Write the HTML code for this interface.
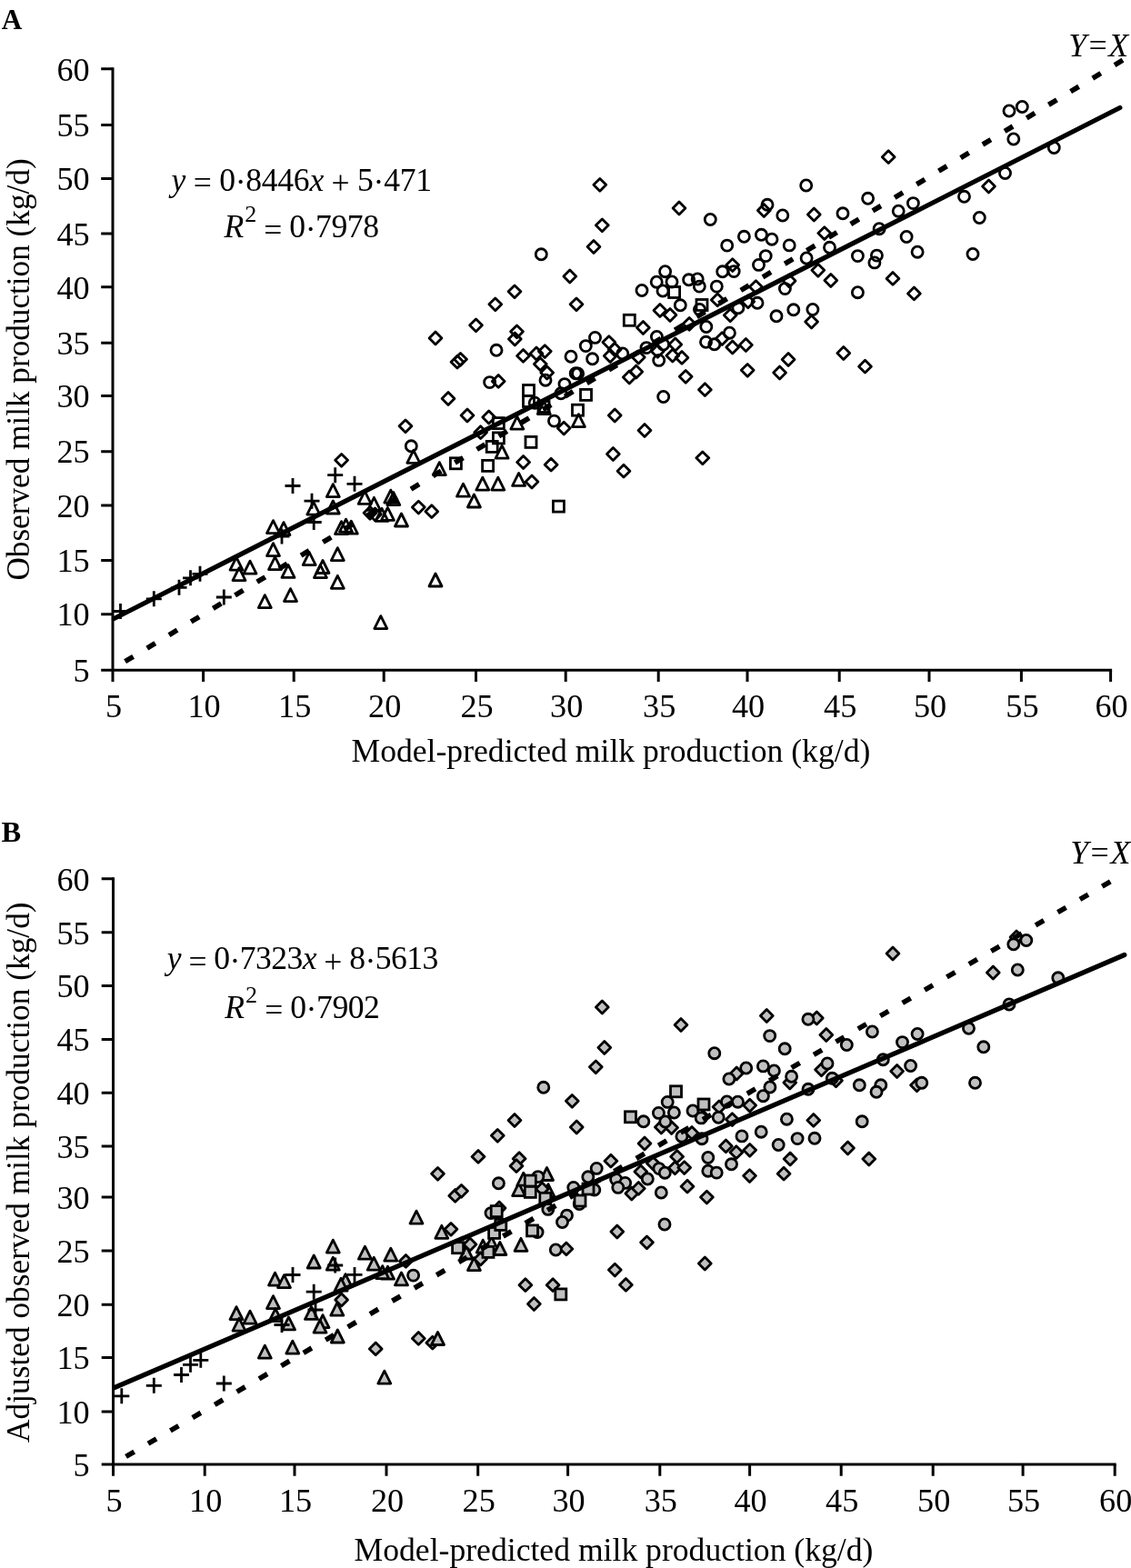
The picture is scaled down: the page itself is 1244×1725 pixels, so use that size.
<!DOCTYPE html>
<html lang="en"><head><meta charset="utf-8"><title>Observed vs model-predicted milk production</title>
<style>
html,body{margin:0;padding:0;background:#fff}
svg{display:block}
text{font-family:"Liberation Serif", serif;fill:#000}
</style></head>
<body>
<svg width="1244" height="1725" viewBox="0 0 1244 1725">
<rect width="1244" height="1725" fill="#fff"/>
<text x="1.8" y="32.2" font-size="31.2" font-weight="bold">A</text>
<text x="1.5" y="926.2" font-size="32.5" font-weight="bold">B</text>
<g id="chartA">
<g stroke="#000" stroke-width="3" fill="none">
<path d="M124 74.3V750"/>
<path d="M111.2 737.2H1223.1"/>
<path d="M111.2 75.8H124M111.2 137.5H124M223.6 737.2V750M111.2 196.4H124M323.2 737.2V750M111.2 257.1H124M422.2 737.2V750M111.2 315.8H124M523.5 737.2V750M111.2 377.3H124M622.2 737.2V750M111.2 435.6H124M724.2 737.2V750M111.2 496.7H124M822 737.2V750M111.2 555.9H124M923.2 737.2V750M111.2 616.6H124M1022 737.2V750M111.2 675.7H124M1123.4 737.2V750M1221.6 737.2V750"/>
</g>
<g font-family='"Liberation Serif", serif' font-size="36.2" fill="#000">
<g text-anchor="end">
<text x="98.6" y="88.5">60</text>
<text x="98.6" y="150.2">55</text>
<text x="98.6" y="209.1">50</text>
<text x="98.6" y="269.8">45</text>
<text x="98.6" y="328.5">40</text>
<text x="98.6" y="390">35</text>
<text x="98.6" y="448.3">30</text>
<text x="98.6" y="509.4">25</text>
<text x="98.6" y="568.6">20</text>
<text x="98.6" y="629.3">15</text>
<text x="98.6" y="688.4">10</text>
<text x="98.6" y="749.9">5</text>
</g><g text-anchor="middle">
<text x="125" y="789.2">5</text>
<text x="224.6" y="789.2">10</text>
<text x="324.2" y="789.2">15</text>
<text x="423.2" y="789.2">20</text>
<text x="524.5" y="789.2">25</text>
<text x="623.2" y="789.2">30</text>
<text x="725.2" y="789.2">35</text>
<text x="823" y="789.2">40</text>
<text x="924.2" y="789.2">45</text>
<text x="1023" y="789.2">50</text>
<text x="1124.4" y="789.2">55</text>
<text x="1222.6" y="789.2">60</text>
</g>
<text x="671.9" y="838.4" text-anchor="middle" font-size="35.64">Model-predicted milk production (kg/d)</text>
<text transform="translate(31.7 406.5) rotate(-90)" text-anchor="middle" font-size="35.2">Observed milk production (kg/d)</text>
<text x="188.5" y="209.6" font-size="35.6" textLength="286.5" lengthAdjust="spacing"><tspan font-style="italic">y</tspan> <tspan dy="3.3">=</tspan><tspan dy="-3.3"> 0</tspan><tspan dy="2.5">·</tspan><tspan dy="-2.5">8446</tspan><tspan font-style="italic">x</tspan> <tspan dy="3.3">+</tspan><tspan dy="-3.3"> 5</tspan><tspan dy="2.5">·</tspan><tspan dy="-2.5">471</tspan></text>
<text x="246.4" y="261.3" font-size="35.6" textLength="170.6" lengthAdjust="spacing"><tspan font-style="italic">R</tspan><tspan dx="1.5" dy="-17" font-size="26">2</tspan><tspan dy="20.3"> =</tspan><tspan dy="-3.3"> 0</tspan><tspan dy="2.5">·</tspan><tspan dy="-2.5">7978</tspan></text>
<text x="1241.2" y="61.5" font-size="35.8" font-style="italic" text-anchor="end">Y=X</text>
</g>
<g fill="none" stroke="#000" stroke-width="2.8" stroke-linejoin="round"><path d="M260 613.1l7.0 14.0h-14.0z"/><path d="M263 624.6l7.0 14.0h-14.0z"/><path d="M275 617.1l7.0 14.0h-14.0z"/><path d="M300.5 572.6l7.0 14.0h-14.0z"/><path d="M312 574.6l7.0 14.0h-14.0z"/><path d="M300.5 597.6l7.0 14.0h-14.0z"/><path d="M302.5 612.6l7.0 14.0h-14.0z"/><path d="M317 621.4l7.0 14.0h-14.0z"/><path d="M291.3 654.6l7.0 14.0h-14.0z"/><path d="M319.5 647.6l7.0 14.0h-14.0z"/><path d="M340.2 607.6l7.0 14.0h-14.0z"/><path d="M355 616.5l7.0 14.0h-14.0z"/><path d="M352.4 621.6l7.0 14.0h-14.0z"/><path d="M371.3 602.6l7.0 14.0h-14.0z"/><path d="M371.3 633.3l7.0 14.0h-14.0z"/><path d="M366.3 532.6l7.0 14.0h-14.0z"/><path d="M366.3 551l7.0 14.0h-14.0z"/><path d="M344.8 552.1l7.0 14.0h-14.0z"/><path d="M401.2 540.4l7.0 14.0h-14.0z"/><path d="M411.4 547.3l7.0 14.0h-14.0z"/><path d="M375.5 573.6l7.0 14.0h-14.0z"/><path d="M380.5 571.1l7.0 14.0h-14.0z"/><path d="M386.3 573.2l7.0 14.0h-14.0z"/><path d="M418.8 677.6l7.0 14.0h-14.0z"/><path d="M420 559.3l7.0 14.0h-14.0z"/><path d="M426.4 558.4l7.0 14.0h-14.0z"/><path d="M454.8 495.3l7.0 14.0h-14.0z"/><path d="M429.8 539.1l7.0 14.0h-14.0z"/><path d="M432.8 541.6l7.0 14.0h-14.0z"/><path d="M441.5 565l7.0 14.0h-14.0z"/><path d="M483.3 508.6l7.0 14.0h-14.0z"/><path d="M509.5 532.2l7.0 14.0h-14.0z"/><path d="M521.4 544l7.0 14.0h-14.0z"/><path d="M530.8 525.1l7.0 14.0h-14.0z"/><path d="M547.8 525.1l7.0 14.0h-14.0z"/><path d="M570.6 520.4l7.0 14.0h-14.0z"/><path d="M552.1 490.2l7.0 14.0h-14.0z"/><path d="M568.8 458.1l7.0 14.0h-14.0z"/><path d="M636.4 455.6l7.0 14.0h-14.0z"/><path d="M479 631l7.0 14.0h-14.0z"/><path d="M598.3 441.6l7.0 14.0h-14.0z"/></g>
<g fill="none" stroke="#000" stroke-width="2.8" stroke-linejoin="round"><path d="M375.6 499.4l6.9 6.9l-6.9 6.9l-6.9 -6.9z"/><path d="M446 461.9l6.9 6.9l-6.9 6.9l-6.9 -6.9z"/><path d="M493 431.6l6.9 6.9l-6.9 6.9l-6.9 -6.9z"/><path d="M514 450.1l6.9 6.9l-6.9 6.9l-6.9 -6.9z"/><path d="M537.7 452.1l6.9 6.9l-6.9 6.9l-6.9 -6.9z"/><path d="M528.6 468.8l6.9 6.9l-6.9 6.9l-6.9 -6.9z"/><path d="M460.3 551.2l6.9 6.9l-6.9 6.9l-6.9 -6.9z"/><path d="M474.8 555.8l6.9 6.9l-6.9 6.9l-6.9 -6.9z"/><path d="M575.6 501.6l6.9 6.9l-6.9 6.9l-6.9 -6.9z"/><path d="M585 523.1l6.9 6.9l-6.9 6.9l-6.9 -6.9z"/><path d="M606.1 504.3l6.9 6.9l-6.9 6.9l-6.9 -6.9z"/><path d="M620.2 464.2l6.9 6.9l-6.9 6.9l-6.9 -6.9z"/><path d="M676.2 450.1l6.9 6.9l-6.9 6.9l-6.9 -6.9z"/><path d="M709 466.6l6.9 6.9l-6.9 6.9l-6.9 -6.9z"/><path d="M674.4 492.6l6.9 6.9l-6.9 6.9l-6.9 -6.9z"/><path d="M686 511.3l6.9 6.9l-6.9 6.9l-6.9 -6.9z"/><path d="M659.8 196.4l6.9 6.9l-6.9 6.9l-6.9 -6.9z"/><path d="M662.3 240.9l6.9 6.9l-6.9 6.9l-6.9 -6.9z"/><path d="M653 264.6l6.9 6.9l-6.9 6.9l-6.9 -6.9z"/><path d="M626.8 297.1l6.9 6.9l-6.9 6.9l-6.9 -6.9z"/><path d="M634 327.9l6.9 6.9l-6.9 6.9l-6.9 -6.9z"/><path d="M566 313.9l6.9 6.9l-6.9 6.9l-6.9 -6.9z"/><path d="M544.8 327.9l6.9 6.9l-6.9 6.9l-6.9 -6.9z"/><path d="M523.5 350.9l6.9 6.9l-6.9 6.9l-6.9 -6.9z"/><path d="M479 365.1l6.9 6.9l-6.9 6.9l-6.9 -6.9z"/><path d="M568.5 357.9l6.9 6.9l-6.9 6.9l-6.9 -6.9z"/><path d="M566.3 366.1l6.9 6.9l-6.9 6.9l-6.9 -6.9z"/><path d="M575.5 384.5l6.9 6.9l-6.9 6.9l-6.9 -6.9z"/><path d="M590 382.1l6.9 6.9l-6.9 6.9l-6.9 -6.9z"/><path d="M599.3 379.7l6.9 6.9l-6.9 6.9l-6.9 -6.9z"/><path d="M594.3 393.7l6.9 6.9l-6.9 6.9l-6.9 -6.9z"/><path d="M601.7 403.1l6.9 6.9l-6.9 6.9l-6.9 -6.9z"/><path d="M503 391.3l6.9 6.9l-6.9 6.9l-6.9 -6.9z"/><path d="M506.5 388.4l6.9 6.9l-6.9 6.9l-6.9 -6.9z"/><path d="M548.2 412.5l6.9 6.9l-6.9 6.9l-6.9 -6.9z"/><path d="M669.8 369.7l6.9 6.9l-6.9 6.9l-6.9 -6.9z"/><path d="M676.2 377.6l6.9 6.9l-6.9 6.9l-6.9 -6.9z"/><path d="M671.2 384.6l6.9 6.9l-6.9 6.9l-6.9 -6.9z"/><path d="M707.4 353.6l6.9 6.9l-6.9 6.9l-6.9 -6.9z"/><path d="M725.9 334.6l6.9 6.9l-6.9 6.9l-6.9 -6.9z"/><path d="M702.3 386.1l6.9 6.9l-6.9 6.9l-6.9 -6.9z"/><path d="M699.8 402.1l6.9 6.9l-6.9 6.9l-6.9 -6.9z"/><path d="M692.2 408.1l6.9 6.9l-6.9 6.9l-6.9 -6.9z"/><path d="M407 557.4l6.9 6.9l-6.9 6.9l-6.9 -6.9z"/><path d="M412.5 558.9l6.9 6.9l-6.9 6.9l-6.9 -6.9z"/><path d="M977.2 165.8l6.9 6.9l-6.9 6.9l-6.9 -6.9z"/><path d="M747 222.1l6.9 6.9l-6.9 6.9l-6.9 -6.9z"/><path d="M840.3 224.6l6.9 6.9l-6.9 6.9l-6.9 -6.9z"/><path d="M895.3 229.1l6.9 6.9l-6.9 6.9l-6.9 -6.9z"/><path d="M906.8 249.7l6.9 6.9l-6.9 6.9l-6.9 -6.9z"/><path d="M805.7 284.7l6.9 6.9l-6.9 6.9l-6.9 -6.9z"/><path d="M831.4 308.7l6.9 6.9l-6.9 6.9l-6.9 -6.9z"/><path d="M868.1 302.1l6.9 6.9l-6.9 6.9l-6.9 -6.9z"/><path d="M899.8 290.4l6.9 6.9l-6.9 6.9l-6.9 -6.9z"/><path d="M913.8 301.6l6.9 6.9l-6.9 6.9l-6.9 -6.9z"/><path d="M982 299.5l6.9 6.9l-6.9 6.9l-6.9 -6.9z"/><path d="M1005.4 316l6.9 6.9l-6.9 6.9l-6.9 -6.9z"/><path d="M789.2 323l6.9 6.9l-6.9 6.9l-6.9 -6.9z"/><path d="M822.8 324.9l6.9 6.9l-6.9 6.9l-6.9 -6.9z"/><path d="M803.2 339.9l6.9 6.9l-6.9 6.9l-6.9 -6.9z"/><path d="M737 339.6l6.9 6.9l-6.9 6.9l-6.9 -6.9z"/><path d="M758.2 349.4l6.9 6.9l-6.9 6.9l-6.9 -6.9z"/><path d="M892.6 347.1l6.9 6.9l-6.9 6.9l-6.9 -6.9z"/><path d="M794.2 365.7l6.9 6.9l-6.9 6.9l-6.9 -6.9z"/><path d="M805.7 375.1l6.9 6.9l-6.9 6.9l-6.9 -6.9z"/><path d="M820.4 372.6l6.9 6.9l-6.9 6.9l-6.9 -6.9z"/><path d="M742.8 372.1l6.9 6.9l-6.9 6.9l-6.9 -6.9z"/><path d="M739.8 384.3l6.9 6.9l-6.9 6.9l-6.9 -6.9z"/><path d="M750 386.5l6.9 6.9l-6.9 6.9l-6.9 -6.9z"/><path d="M754.2 407.4l6.9 6.9l-6.9 6.9l-6.9 -6.9z"/><path d="M775.4 421.8l6.9 6.9l-6.9 6.9l-6.9 -6.9z"/><path d="M822.2 400.4l6.9 6.9l-6.9 6.9l-6.9 -6.9z"/><path d="M857.6 403.1l6.9 6.9l-6.9 6.9l-6.9 -6.9z"/><path d="M867.1 388.6l6.9 6.9l-6.9 6.9l-6.9 -6.9z"/><path d="M927.8 381.6l6.9 6.9l-6.9 6.9l-6.9 -6.9z"/><path d="M951.5 396.3l6.9 6.9l-6.9 6.9l-6.9 -6.9z"/><path d="M723.3 379.5l6.9 6.9l-6.9 6.9l-6.9 -6.9z"/><path d="M772.8 496.9l6.9 6.9l-6.9 6.9l-6.9 -6.9z"/><path d="M1087.5 198.1l6.9 6.9l-6.9 6.9l-6.9 -6.9z"/></g>

<g fill="none" stroke="#000" stroke-width="2.8"><circle cx="452.3" cy="490.8" r="6.05"/><circle cx="609.5" cy="463.1" r="6.05"/><circle cx="595.3" cy="279.8" r="6.05"/><circle cx="546" cy="385.3" r="6.05"/><circle cx="538.6" cy="420.6" r="6.05"/><circle cx="600" cy="418.2" r="6.05"/><circle cx="628" cy="392.2" r="6.05"/><circle cx="644.3" cy="380.6" r="6.05"/><circle cx="654.5" cy="371.4" r="6.05"/><circle cx="651.6" cy="394.8" r="6.05"/><circle cx="633.2" cy="410.8" r="6.05"/><circle cx="635.6" cy="410.9" r="6.05"/><circle cx="621" cy="422.6" r="6.05"/><circle cx="617" cy="432.8" r="6.05"/><circle cx="588.2" cy="443.2" r="6.05"/><circle cx="684.8" cy="389" r="6.05"/><circle cx="706" cy="319.5" r="6.05"/><circle cx="722.2" cy="310.2" r="6.05"/><circle cx="731.6" cy="298.7" r="6.05"/><circle cx="729" cy="320" r="6.05"/><circle cx="722.4" cy="370.5" r="6.05"/><circle cx="711" cy="382.6" r="6.05"/><circle cx="724.7" cy="396.4" r="6.05"/><circle cx="729.7" cy="436.5" r="6.05"/><circle cx="886.7" cy="204" r="6.05"/><circle cx="844" cy="225.3" r="6.05"/><circle cx="860.8" cy="237" r="6.05"/><circle cx="781.3" cy="241.5" r="6.05"/><circle cx="927" cy="234.8" r="6.05"/><circle cx="954.6" cy="218.3" r="6.05"/><circle cx="988.2" cy="232.2" r="6.05"/><circle cx="1004.4" cy="223.6" r="6.05"/><circle cx="967.1" cy="251.7" r="6.05"/><circle cx="997.1" cy="260.5" r="6.05"/><circle cx="1009.1" cy="277.2" r="6.05"/><circle cx="818.4" cy="260.3" r="6.05"/><circle cx="837.4" cy="258.3" r="6.05"/><circle cx="849" cy="263.2" r="6.05"/><circle cx="868.2" cy="269.9" r="6.05"/><circle cx="799.7" cy="270.1" r="6.05"/><circle cx="842.2" cy="281.6" r="6.05"/><circle cx="834.5" cy="291.4" r="6.05"/><circle cx="912.5" cy="272.3" r="6.05"/><circle cx="887.1" cy="284" r="6.05"/><circle cx="943.4" cy="281.6" r="6.05"/><circle cx="964.4" cy="281.1" r="6.05"/><circle cx="961.9" cy="288.9" r="6.05"/><circle cx="794.7" cy="298.8" r="6.05"/><circle cx="807.2" cy="298.6" r="6.05"/><circle cx="739" cy="310" r="6.05"/><circle cx="757.6" cy="307.8" r="6.05"/><circle cx="767.2" cy="307" r="6.05"/><circle cx="769.3" cy="315.1" r="6.05"/><circle cx="788.3" cy="315.1" r="6.05"/><circle cx="863.4" cy="317.6" r="6.05"/><circle cx="943.4" cy="321.7" r="6.05"/><circle cx="748.3" cy="335.8" r="6.05"/><circle cx="769.5" cy="340.5" r="6.05"/><circle cx="811.9" cy="338.8" r="6.05"/><circle cx="833" cy="333.3" r="6.05"/><circle cx="872.8" cy="340.8" r="6.05"/><circle cx="893.9" cy="340.5" r="6.05"/><circle cx="854" cy="347.8" r="6.05"/><circle cx="729.6" cy="379" r="6.05"/><circle cx="776.8" cy="359.5" r="6.05"/><circle cx="802.4" cy="366.2" r="6.05"/><circle cx="776.5" cy="376.3" r="6.05"/><circle cx="785.8" cy="378.8" r="6.05"/><circle cx="1110" cy="122" r="6.05"/><circle cx="1124.3" cy="117.5" r="6.05"/><circle cx="1114.8" cy="153" r="6.05"/><circle cx="1159.3" cy="162.5" r="6.05"/><circle cx="1105.5" cy="190.5" r="6.05"/><circle cx="1060.5" cy="216.3" r="6.05"/><circle cx="1077.3" cy="239.5" r="6.05"/><circle cx="1070" cy="279.5" r="6.05"/></g>
<g fill="none" stroke="#000" stroke-width="2.8"><rect x="495.4" y="503.8" width="12.0" height="12.0"/><rect x="530.6" y="506.4" width="12.0" height="12.0"/><rect x="535.2" y="485.4" width="12.0" height="12.0"/><rect x="542.4" y="475.9" width="12.0" height="12.0"/><rect x="542.3" y="459.6" width="12.0" height="12.0"/><rect x="578" y="480.4" width="12.0" height="12.0"/><rect x="629.5" y="445.2" width="12.0" height="12.0"/><rect x="608.4" y="551.1" width="12.0" height="12.0"/><rect x="575.5" y="423.5" width="12.0" height="12.0"/><rect x="575.5" y="435.5" width="12.0" height="12.0"/><rect x="592" y="441.5" width="12.0" height="12.0"/><rect x="638.5" y="428.4" width="12.0" height="12.0"/><rect x="686.3" y="346.3" width="12.0" height="12.0"/><rect x="735.6" y="315.5" width="12.0" height="12.0"/><rect x="766" y="329.5" width="12.0" height="12.0"/></g>
<g fill="none" stroke="#000" stroke-width="2.8"><path d="M124 672.5h17.0M132.5 664v17.0"/><path d="M160.8 658.8h17.0M169.3 650.3v17.0"/><path d="M188.5 646.3h17.0M197 637.8v17.0"/><path d="M201 635.8h17.0M209.5 627.3v17.0"/><path d="M211.5 631.3h17.0M220 622.8v17.0"/><path d="M237.8 657h17.0M246.3 648.5v17.0"/><path d="M313.5 534.5h17.0M322 526v17.0"/><path d="M360.2 522.7h17.0M368.7 514.2v17.0"/><path d="M381.5 532.3h17.0M390 523.8v17.0"/><path d="M334.5 551.2h17.0M343 542.7v17.0"/><path d="M336.7 574.5h17.0M345.2 566v17.0"/><path d="M301.5 590h17.0M310 581.5v17.0"/></g>
<path d="M137.60 727.71L1235.00 66.09" stroke="#000" stroke-width="5.6" stroke-dasharray="10.5 17.742" fill="none"/>
<path d="M125.5 680.5L1231.8 118.5" stroke="#000" stroke-width="5.3" stroke-linecap="round" fill="none"/>
</g>
<g id="chartB">
<g stroke="#000" stroke-width="3" fill="none">
<path d="M124.5 965.3V1623.7"/>
<path d="M111.7 1610.9H1227.7"/>
<path d="M111.7 966.8H124.5M111.7 1025.8H124.5M225.2 1610.9V1623.7M111.7 1084.6H124.5M324 1610.9V1623.7M111.7 1143.6H124.5M425 1610.9V1623.7M111.7 1202.3H124.5M525.7 1610.9V1623.7M111.7 1261H124.5M624.6 1610.9V1623.7M111.7 1316.9H124.5M725.8 1610.9V1623.7M111.7 1376.1H124.5M824.6 1610.9V1623.7M111.7 1435.2H124.5M925.2 1610.9V1623.7M111.7 1493.5H124.5M1026.2 1610.9V1623.7M111.7 1553.1H124.5M1125.1 1610.9V1623.7M1226.2 1610.9V1623.7"/>
</g>
<g font-family='"Liberation Serif", serif' font-size="36.2" fill="#000">
<g text-anchor="end">
<text x="98.6" y="979.5">60</text>
<text x="98.6" y="1038.5">55</text>
<text x="98.6" y="1097.3">50</text>
<text x="98.6" y="1156.3">45</text>
<text x="98.6" y="1215">40</text>
<text x="98.6" y="1273.7">35</text>
<text x="98.6" y="1329.6">30</text>
<text x="98.6" y="1388.8">25</text>
<text x="98.6" y="1447.9">20</text>
<text x="98.6" y="1506.2">15</text>
<text x="98.6" y="1565.8">10</text>
<text x="98.6" y="1623.6">5</text>
</g><g text-anchor="middle">
<text x="125.5" y="1663.2">5</text>
<text x="226.2" y="1663.2">10</text>
<text x="325" y="1663.2">15</text>
<text x="426" y="1663.2">20</text>
<text x="526.7" y="1663.2">25</text>
<text x="625.6" y="1663.2">30</text>
<text x="726.8" y="1663.2">35</text>
<text x="825.6" y="1663.2">40</text>
<text x="926.2" y="1663.2">45</text>
<text x="1027.2" y="1663.2">50</text>
<text x="1126.1" y="1663.2">55</text>
<text x="1227.2" y="1663.2">60</text>
</g>
<text x="675" y="1716.7" text-anchor="middle" font-size="35.64">Model-predicted milk production (kg/d)</text>
<text transform="translate(31.7 1289.7) rotate(-90)" text-anchor="middle" font-size="35.35">Adjusted observed milk production (kg/d)</text>
<text x="183.8" y="1066.2" font-size="35.6" textLength="298.4" lengthAdjust="spacing"><tspan font-style="italic">y</tspan> <tspan dy="3.3">=</tspan><tspan dy="-3.3"> 0</tspan><tspan dy="2.5">·</tspan><tspan dy="-2.5">7323</tspan><tspan font-style="italic">x</tspan> <tspan dy="3.3">+</tspan><tspan dy="-3.3"> 8</tspan><tspan dy="2.5">·</tspan><tspan dy="-2.5">5613</tspan></text>
<text x="247.3" y="1119.6" font-size="35.6" textLength="170.6" lengthAdjust="spacing"><tspan font-style="italic">R</tspan><tspan dx="1.5" dy="-17" font-size="26">2</tspan><tspan dy="20.3"> =</tspan><tspan dy="-3.3"> 0</tspan><tspan dy="2.5">·</tspan><tspan dy="-2.5">7902</tspan></text>
<text x="1243.3" y="949.8" font-size="35.8" font-style="italic" text-anchor="end">Y=X</text>
</g>
<g fill="#c0c0c0" stroke="#000" stroke-width="2.8" stroke-linejoin="round"><path d="M380 1401.6l7.0 14.0h-14.0z"/><path d="M260 1437.6l7.0 14.0h-14.0z"/><path d="M263 1450.1l7.0 14.0h-14.0z"/><path d="M275 1442.1l7.0 14.0h-14.0z"/><path d="M302.5 1400.1l7.0 14.0h-14.0z"/><path d="M312.5 1402.6l7.0 14.0h-14.0z"/><path d="M300.5 1425.6l7.0 14.0h-14.0z"/><path d="M303 1439.6l7.0 14.0h-14.0z"/><path d="M317.5 1448.9l7.0 14.0h-14.0z"/><path d="M291.3 1480.1l7.0 14.0h-14.0z"/><path d="M321.8 1475.1l7.0 14.0h-14.0z"/><path d="M342.5 1437.4l7.0 14.0h-14.0z"/><path d="M355 1446.6l7.0 14.0h-14.0z"/><path d="M352 1452.1l7.0 14.0h-14.0z"/><path d="M371.3 1463l7.0 14.0h-14.0z"/><path d="M370.8 1433.2l7.0 14.0h-14.0z"/><path d="M375.1 1406.2l7.0 14.0h-14.0z"/><path d="M345.2 1381l7.0 14.0h-14.0z"/><path d="M366.3 1364.1l7.0 14.0h-14.0z"/><path d="M366.3 1383.2l7.0 14.0h-14.0z"/><path d="M401.4 1371.2l7.0 14.0h-14.0z"/><path d="M411.2 1383.2l7.0 14.0h-14.0z"/><path d="M422.8 1508.1l7.0 14.0h-14.0z"/><path d="M458 1332.1l7.0 14.0h-14.0z"/><path d="M429.8 1373.2l7.0 14.0h-14.0z"/><path d="M426.5 1393.2l7.0 14.0h-14.0z"/><path d="M420.7 1392.6l7.0 14.0h-14.0z"/><path d="M441.5 1399.9l7.0 14.0h-14.0z"/><path d="M485.8 1348.3l7.0 14.0h-14.0z"/><path d="M513 1371l7.0 14.0h-14.0z"/><path d="M521.4 1383.6l7.0 14.0h-14.0z"/><path d="M531.2 1364.1l7.0 14.0h-14.0z"/><path d="M540.6 1360.6l7.0 14.0h-14.0z"/><path d="M549.9 1366.5l7.0 14.0h-14.0z"/><path d="M573 1362.3l7.0 14.0h-14.0z"/><path d="M570.6 1301.6l7.0 14.0h-14.0z"/><path d="M575.8 1290.2l7.0 14.0h-14.0z"/><path d="M601.5 1284.5l7.0 14.0h-14.0z"/><path d="M603 1302.6l7.0 14.0h-14.0z"/></g>
<g fill="#c0c0c0" stroke="#000" stroke-width="2.8" stroke-linejoin="round"><path d="M375.6 1423.1l6.9 6.9l-6.9 6.9l-6.9 -6.9z"/><path d="M413.2 1477l6.9 6.9l-6.9 6.9l-6.9 -6.9z"/><path d="M446.4 1380.5l6.9 6.9l-6.9 6.9l-6.9 -6.9z"/><path d="M496 1345.4l6.9 6.9l-6.9 6.9l-6.9 -6.9z"/><path d="M517 1362.1l6.9 6.9l-6.9 6.9l-6.9 -6.9z"/><path d="M528.6 1378.1l6.9 6.9l-6.9 6.9l-6.9 -6.9z"/><path d="M549.1 1322.1l6.9 6.9l-6.9 6.9l-6.9 -6.9z"/><path d="M500.7 1308.5l6.9 6.9l-6.9 6.9l-6.9 -6.9z"/><path d="M507.5 1303.4l6.9 6.9l-6.9 6.9l-6.9 -6.9z"/><path d="M460.3 1465.5l6.9 6.9l-6.9 6.9l-6.9 -6.9z"/><path d="M475.8 1470.3l6.9 6.9l-6.9 6.9l-6.9 -6.9z"/><path d="M577.9 1406.8l6.9 6.9l-6.9 6.9l-6.9 -6.9z"/><path d="M587.4 1427.6l6.9 6.9l-6.9 6.9l-6.9 -6.9z"/><path d="M608.1 1406.8l6.9 6.9l-6.9 6.9l-6.9 -6.9z"/><path d="M622.9 1367l6.9 6.9l-6.9 6.9l-6.9 -6.9z"/><path d="M678.8 1348.1l6.9 6.9l-6.9 6.9l-6.9 -6.9z"/><path d="M711.5 1359.9l6.9 6.9l-6.9 6.9l-6.9 -6.9z"/><path d="M676.3 1390.2l6.9 6.9l-6.9 6.9l-6.9 -6.9z"/><path d="M688.4 1406.5l6.9 6.9l-6.9 6.9l-6.9 -6.9z"/><path d="M694.8 1306.1l6.9 6.9l-6.9 6.9l-6.9 -6.9z"/><path d="M662.3 1101.1l6.9 6.9l-6.9 6.9l-6.9 -6.9z"/><path d="M664.8 1145.6l6.9 6.9l-6.9 6.9l-6.9 -6.9z"/><path d="M655.3 1166.9l6.9 6.9l-6.9 6.9l-6.9 -6.9z"/><path d="M629.3 1204.4l6.9 6.9l-6.9 6.9l-6.9 -6.9z"/><path d="M634.2 1233.1l6.9 6.9l-6.9 6.9l-6.9 -6.9z"/><path d="M566 1225.6l6.9 6.9l-6.9 6.9l-6.9 -6.9z"/><path d="M547.3 1242.4l6.9 6.9l-6.9 6.9l-6.9 -6.9z"/><path d="M526 1265.5l6.9 6.9l-6.9 6.9l-6.9 -6.9z"/><path d="M481.5 1284.4l6.9 6.9l-6.9 6.9l-6.9 -6.9z"/><path d="M571.1 1267.8l6.9 6.9l-6.9 6.9l-6.9 -6.9z"/><path d="M568 1275.8l6.9 6.9l-6.9 6.9l-6.9 -6.9z"/><path d="M596.3 1301l6.9 6.9l-6.9 6.9l-6.9 -6.9z"/><path d="M671.9 1270.3l6.9 6.9l-6.9 6.9l-6.9 -6.9z"/><path d="M709 1251.1l6.9 6.9l-6.9 6.9l-6.9 -6.9z"/><path d="M727.3 1233.1l6.9 6.9l-6.9 6.9l-6.9 -6.9z"/><path d="M704.8 1282l6.9 6.9l-6.9 6.9l-6.9 -6.9z"/><path d="M702.3 1300.5l6.9 6.9l-6.9 6.9l-6.9 -6.9z"/><path d="M982 1042.1l6.9 6.9l-6.9 6.9l-6.9 -6.9z"/><path d="M749 1120.6l6.9 6.9l-6.9 6.9l-6.9 -6.9z"/><path d="M843.3 1110.6l6.9 6.9l-6.9 6.9l-6.9 -6.9z"/><path d="M898.3 1113.1l6.9 6.9l-6.9 6.9l-6.9 -6.9z"/><path d="M908.8 1131.6l6.9 6.9l-6.9 6.9l-6.9 -6.9z"/><path d="M810.2 1174.1l6.9 6.9l-6.9 6.9l-6.9 -6.9z"/><path d="M868.8 1184.1l6.9 6.9l-6.9 6.9l-6.9 -6.9z"/><path d="M903.5 1169.9l6.9 6.9l-6.9 6.9l-6.9 -6.9z"/><path d="M919.5 1181.9l6.9 6.9l-6.9 6.9l-6.9 -6.9z"/><path d="M986.6 1171.6l6.9 6.9l-6.9 6.9l-6.9 -6.9z"/><path d="M1008.5 1186.9l6.9 6.9l-6.9 6.9l-6.9 -6.9z"/><path d="M791 1210.9l6.9 6.9l-6.9 6.9l-6.9 -6.9z"/><path d="M824.7 1209.2l6.9 6.9l-6.9 6.9l-6.9 -6.9z"/><path d="M805.4 1224.7l6.9 6.9l-6.9 6.9l-6.9 -6.9z"/><path d="M773.3 1221.9l6.9 6.9l-6.9 6.9l-6.9 -6.9z"/><path d="M738.6 1233.7l6.9 6.9l-6.9 6.9l-6.9 -6.9z"/><path d="M761 1239.5l6.9 6.9l-6.9 6.9l-6.9 -6.9z"/><path d="M894.8 1225.5l6.9 6.9l-6.9 6.9l-6.9 -6.9z"/><path d="M798.4 1254l6.9 6.9l-6.9 6.9l-6.9 -6.9z"/><path d="M809.9 1260.8l6.9 6.9l-6.9 6.9l-6.9 -6.9z"/><path d="M824.7 1258.4l6.9 6.9l-6.9 6.9l-6.9 -6.9z"/><path d="M744.6 1265.5l6.9 6.9l-6.9 6.9l-6.9 -6.9z"/><path d="M742.4 1277.9l6.9 6.9l-6.9 6.9l-6.9 -6.9z"/><path d="M752.7 1277.7l6.9 6.9l-6.9 6.9l-6.9 -6.9z"/><path d="M756 1298.3l6.9 6.9l-6.9 6.9l-6.9 -6.9z"/><path d="M777.4 1310.2l6.9 6.9l-6.9 6.9l-6.9 -6.9z"/><path d="M824.5 1286.7l6.9 6.9l-6.9 6.9l-6.9 -6.9z"/><path d="M862.1 1284.3l6.9 6.9l-6.9 6.9l-6.9 -6.9z"/><path d="M869.1 1268.1l6.9 6.9l-6.9 6.9l-6.9 -6.9z"/><path d="M932.5 1256.1l6.9 6.9l-6.9 6.9l-6.9 -6.9z"/><path d="M955.8 1268.1l6.9 6.9l-6.9 6.9l-6.9 -6.9z"/><path d="M718.3 1272.9l6.9 6.9l-6.9 6.9l-6.9 -6.9z"/><path d="M775.3 1383.1l6.9 6.9l-6.9 6.9l-6.9 -6.9z"/><path d="M1092.3 1063.1l6.9 6.9l-6.9 6.9l-6.9 -6.9z"/><path d="M1118 1024.1l6.9 6.9l-6.9 6.9l-6.9 -6.9z"/></g>
<g fill="#c0c0c0" stroke="#000" stroke-width="2.8" stroke-linejoin="round"><path d="M481.5 1465.5l7.0 14.0h-14.0z"/></g>
<g fill="#c0c0c0" stroke="#000" stroke-width="2.8"><circle cx="591.8" cy="1294.6" r="6.05"/><circle cx="454.6" cy="1403.1" r="6.05"/><circle cx="540" cy="1334.6" r="6.05"/><circle cx="602.8" cy="1330.4" r="6.05"/><circle cx="623.5" cy="1337.1" r="6.05"/><circle cx="618.5" cy="1344.5" r="6.05"/><circle cx="591.1" cy="1355.6" r="6.05"/><circle cx="611.3" cy="1375" r="6.05"/><circle cx="637.3" cy="1324.6" r="6.05"/><circle cx="731" cy="1347" r="6.05"/><circle cx="727.3" cy="1312" r="6.05"/><circle cx="653.8" cy="1309" r="6.05"/><circle cx="597.8" cy="1196.3" r="6.05"/><circle cx="548.4" cy="1301.8" r="6.05"/><circle cx="707.8" cy="1233.8" r="6.05"/><circle cx="724.4" cy="1224.4" r="6.05"/><circle cx="656.2" cy="1285.4" r="6.05"/><circle cx="646.8" cy="1294.8" r="6.05"/><circle cx="630.8" cy="1306.4" r="6.05"/><circle cx="677.6" cy="1297.4" r="6.05"/><circle cx="687.6" cy="1301.4" r="6.05"/><circle cx="679.8" cy="1306.4" r="6.05"/><circle cx="712.3" cy="1297" r="6.05"/><circle cx="724.9" cy="1285.6" r="6.05"/><circle cx="731.3" cy="1290.2" r="6.05"/><circle cx="888.9" cy="1121.3" r="6.05"/><circle cx="846.7" cy="1139.6" r="6.05"/><circle cx="863.2" cy="1153.8" r="6.05"/><circle cx="785.8" cy="1158.7" r="6.05"/><circle cx="931.3" cy="1149.5" r="6.05"/><circle cx="959.4" cy="1135" r="6.05"/><circle cx="992.5" cy="1146.6" r="6.05"/><circle cx="1009.1" cy="1137.5" r="6.05"/><circle cx="971.3" cy="1165.8" r="6.05"/><circle cx="1001.6" cy="1172.5" r="6.05"/><circle cx="1013.8" cy="1191.3" r="6.05"/><circle cx="820.7" cy="1175" r="6.05"/><circle cx="839.4" cy="1172.9" r="6.05"/><circle cx="851.4" cy="1178" r="6.05"/><circle cx="870.6" cy="1184.3" r="6.05"/><circle cx="801.9" cy="1187" r="6.05"/><circle cx="846.9" cy="1196" r="6.05"/><circle cx="839.4" cy="1205.7" r="6.05"/><circle cx="910" cy="1170" r="6.05"/><circle cx="915.3" cy="1186.3" r="6.05"/><circle cx="889" cy="1198.3" r="6.05"/><circle cx="945.3" cy="1193.8" r="6.05"/><circle cx="968.8" cy="1193.8" r="6.05"/><circle cx="964" cy="1201.3" r="6.05"/><circle cx="799.5" cy="1212" r="6.05"/><circle cx="811.5" cy="1212.2" r="6.05"/><circle cx="734.2" cy="1212.4" r="6.05"/><circle cx="741.4" cy="1224" r="6.05"/><circle cx="762" cy="1222" r="6.05"/><circle cx="771.2" cy="1229.9" r="6.05"/><circle cx="790.2" cy="1229.3" r="6.05"/><circle cx="731.8" cy="1234" r="6.05"/><circle cx="749.9" cy="1250.2" r="6.05"/><circle cx="772" cy="1252.7" r="6.05"/><circle cx="816" cy="1249.9" r="6.05"/><circle cx="837.2" cy="1245.2" r="6.05"/><circle cx="865.4" cy="1231.2" r="6.05"/><circle cx="948.2" cy="1233.8" r="6.05"/><circle cx="877.1" cy="1252.6" r="6.05"/><circle cx="896" cy="1252.3" r="6.05"/><circle cx="856.2" cy="1259.5" r="6.05"/><circle cx="778.8" cy="1273.5" r="6.05"/><circle cx="804.5" cy="1280.8" r="6.05"/><circle cx="778.8" cy="1288.2" r="6.05"/><circle cx="788.2" cy="1290.1" r="6.05"/><circle cx="1114.8" cy="1038.8" r="6.05"/><circle cx="1128.8" cy="1034.5" r="6.05"/><circle cx="1119.3" cy="1067" r="6.05"/><circle cx="1163.8" cy="1075.8" r="6.05"/><circle cx="1110" cy="1105" r="6.05"/><circle cx="1065.5" cy="1131.3" r="6.05"/><circle cx="1081.8" cy="1151.8" r="6.05"/><circle cx="1072.5" cy="1191.3" r="6.05"/></g>
<g fill="#c0c0c0" stroke="#000" stroke-width="2.8"><rect x="497.6" y="1366.7" width="12.0" height="12.0"/><rect x="531" y="1371.4" width="12.0" height="12.0"/><rect x="537.6" y="1350.4" width="12.0" height="12.0"/><rect x="544.8" y="1341.4" width="12.0" height="12.0"/><rect x="540.2" y="1326.6" width="12.0" height="12.0"/><rect x="579.5" y="1347.9" width="12.0" height="12.0"/><rect x="593.8" y="1312.3" width="12.0" height="12.0"/><rect x="577.3" y="1293" width="12.0" height="12.0"/><rect x="577.3" y="1305.4" width="12.0" height="12.0"/><rect x="632" y="1315" width="12.0" height="12.0"/><rect x="641" y="1302" width="12.0" height="12.0"/><rect x="610.8" y="1417.9" width="12.0" height="12.0"/><rect x="687.5" y="1222.8" width="12.0" height="12.0"/><rect x="737.5" y="1194.8" width="12.0" height="12.0"/><rect x="768" y="1209" width="12.0" height="12.0"/></g>
<g fill="none" stroke="#000" stroke-width="2.8"><path d="M125.3 1535.8h17.0M133.8 1527.3v17.0"/><path d="M160.8 1524.3h17.0M169.3 1515.8v17.0"/><path d="M191 1512.5h17.0M199.5 1504v17.0"/><path d="M201 1501.3h17.0M209.5 1492.8v17.0"/><path d="M212.3 1496.3h17.0M220.8 1487.8v17.0"/><path d="M237.8 1522h17.0M246.3 1513.5v17.0"/><path d="M313.5 1402.5h17.0M322 1394v17.0"/><path d="M360.2 1392h17.0M368.7 1383.5v17.0"/><path d="M381.5 1402.4h17.0M390 1393.9v17.0"/><path d="M336.7 1421.2h17.0M345.2 1412.7v17.0"/><path d="M338.5 1441h17.0M347 1432.5v17.0"/><path d="M301.5 1457.5h17.0M310 1449v17.0"/></g>
<path d="M138.57 1602.35L1221.33 969.85" stroke="#000" stroke-width="5.6" stroke-dasharray="10.5 17.761" fill="none"/>
<path d="M126 1526.5L1236.8 1050.5" stroke="#000" stroke-width="5.3" stroke-linecap="round" fill="none"/>
</g>
</svg>
</body></html>
